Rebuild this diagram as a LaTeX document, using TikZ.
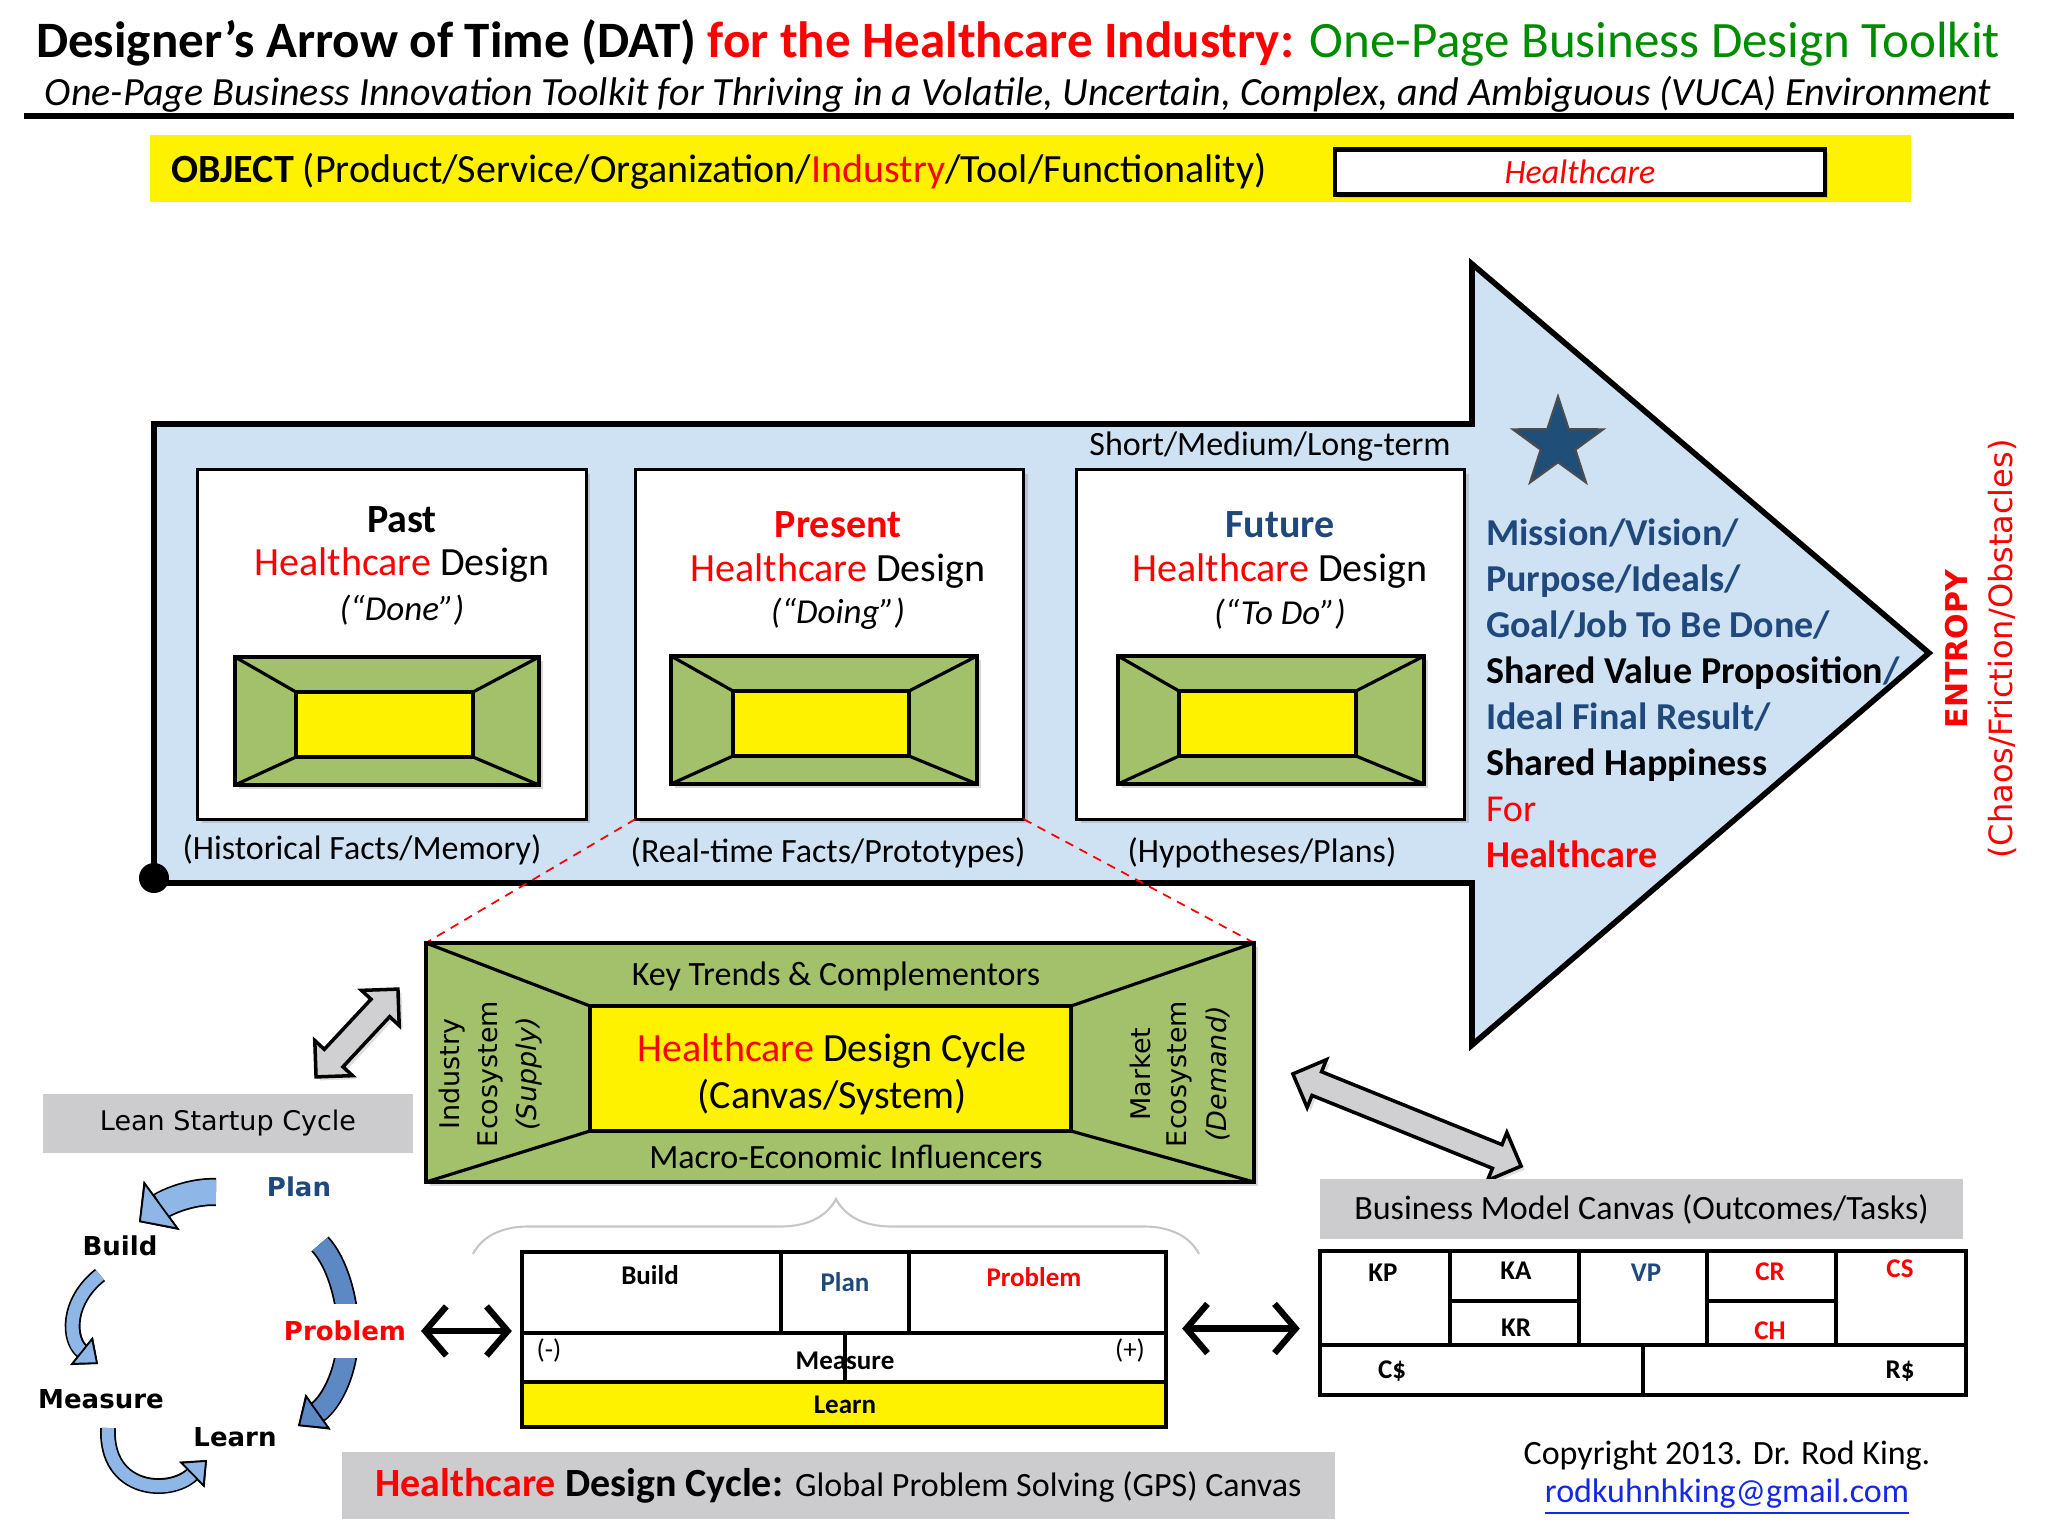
\documentclass[tikz,border=0pt]{standalone}
\usepackage{fontspec}
\setmainfont{Carlito}
\newfontfamily\verd{DejaVu Sans}
\usetikzlibrary{arrows.meta, positioning, calc, shapes.geometric, shapes.arrows, decorations.pathreplacing, shadows}
\definecolor{arrowblue}{RGB}{207,226,243}
\definecolor{olive}{RGB}{163,192,106}
\definecolor{navy}{RGB}{31,73,125}
\definecolor{hred}{RGB}{255,0,0}
\definecolor{dgreen}{RGB}{0,140,0}
\definecolor{bargray}{RGB}{204,204,206}
\definecolor{linkgray}{RGB}{208,208,211}
\definecolor{cyclight}{RGB}{142,182,230}
\definecolor{cycdark}{RGB}{92,136,196}
\definecolor{starblue}{RGB}{31,78,121}
\definecolor{linkblue}{RGB}{20,40,230}

% font size given in pixels of the 2048 wide sheet
\newcommand{\pxfont}[2]{\fontsize{\dimexpr0.2845pt*#1\relax}{\dimexpr0.2845pt*#2\relax}\selectfont}

% green frame with a yellow core
\newcommand{\designframe}[8]{%
  \draw[edge, fill=olive, drop shadow={shadow xshift=1.2pt, shadow yshift=-1.2pt, opacity=0.3}] (#1,#2) rectangle (#3,#4);
  \draw[edge] (#1,#2) -- (#5,#6) (#3,#2) -- (#7,#6) (#1,#4) -- (#5,#8) (#3,#4) -- (#7,#8);
  \draw[edge, fill=yellow] (#5,#6) rectangle (#7,#8);
}

\begin{document}
\begin{tikzpicture}[x=0.01cm, y=-0.01cm,
    every node/.style={inner sep=0pt, outer sep=0pt},
    outline/.style={draw=black, line width=1.6pt},
    edge/.style={draw=black, line width=0.9pt},
    timebox/.style={edge, fill=white, minimum width=3.88cm, minimum height=3.49cm,
      drop shadow={shadow xshift=1.2pt, shadow yshift=-1.2pt, opacity=0.3}},
    bar/.style={fill=bargray},
    grid/.style={draw=black, line width=1.1pt},
    zoomline/.style={hred, line width=0.5pt, dash pattern=on 2.5pt off 2pt},
    blocklink/.style={double arrow, draw=black, line width=1pt, fill=linkgray,
      inner sep=0.11cm, double arrow head extend=0.13cm,
      drop shadow={shadow xshift=1pt, shadow yshift=-1pt, opacity=0.25}},
    pairlink/.style={line width=1.8pt, {Straight Barb[length=6pt,width=14pt]}-{Straight Barb[length=6pt,width=14pt]}},
    cycarrow/.style n args={4}{line width=#2, draw=#1,
      -{Triangle[length=#3, width=#4, color=black, fill=#1, line width=0.5pt]},
      preaction={draw=black, line width=#2+1pt, -{Triangle[length=#3, width=#4]}}},
    cyclabel/.style={font=\verd\bfseries\pxfont{26}{30}},
    cell/.style={font=\bfseries\pxfont{27}{30}}]
\useasboundingbox (0,0) rectangle (2048,1536);

% heading
\node (title) at (1018,43) {\pxfont{51.5}{58}\bfseries Designer’s Arrow of Time (DAT) \textcolor{hred}{for the Healthcare Industry:} \mdseries\textcolor{dgreen}{One-Page Business Design Toolkit}};
\node (subtitle) at (1018,94) {\pxfont{40}{46}\itshape One-Page Business Innovation Toolkit for Thriving in a Volatile, Uncertain, Complex, and Ambiguous (VUCA) Environment};
\draw[line width=1.6pt] (24,116) -- (2014,116);

% object band
\fill[yellow] (150,135) rectangle (1911,202);
\node[anchor=west] (object) at (171,171) {\pxfont{40}{46}\textbf{OBJECT} (Product/Service/Organization/\textcolor{hred}{Industry}/Tool/Functionality)};
\node[draw, fill=white, line width=1.2pt, minimum width=4.89cm, minimum height=0.45cm,
  drop shadow={shadow xshift=1pt, shadow yshift=-1pt, opacity=0.3}] (objbox) at (1580,172) {\pxfont{34}{38}\itshape\color{hred}Healthcare};

% arrow of time
\draw[outline, fill=arrowblue] (154,424) -- (1472,424) -- (1472,264) -- (1929,653) -- (1472,1045) -- (1472,883) -- (154,883) -- cycle;
\fill (154,878) circle (0.15cm);
\node (horizon) at (1270,447) {\pxfont{34}{38}Short/Medium/Long-term};

% past / present / future
\node[timebox] (past) at (392,644.5) {};
\node[timebox] (present) at (829.5,644.5) {};
\node[timebox] (future) at (1270.5,644.5) {};

\node (pastname) at (402,520) {\pxfont{40}{44}\bfseries Past};
\node (pastdesign) at (402,565) {\pxfont{40}{44}\textcolor{hred}{Healthcare} Design};
\node (pastmode) at (402,610) {\pxfont{35}{40}\itshape(“Done”)};
\node (presentname) at (838,525) {\pxfont{40}{44}\bfseries\color{hred}Present};
\node (presentdesign) at (838,571) {\pxfont{40}{44}\textcolor{hred}{Healthcare} Design};
\node (presentmode) at (838,614) {\pxfont{35}{40}\itshape(“Doing”)};
\node (futurename) at (1280,525) {\pxfont{40}{44}\bfseries\color{navy}Future};
\node (futuredesign) at (1280,571) {\pxfont{40}{44}\textcolor{hred}{Healthcare} Design};
\node (futuremode) at (1280,614) {\pxfont{35}{40}\itshape(“To Do”)};

\designframe{235}{657}{539}{785}{296}{692}{473}{757}
\designframe{671}{656}{977}{784}{733}{691}{909}{756}
\designframe{1118}{656}{1424}{784}{1179}{691}{1356}{756}

\node (pastfacts) at (362,850) {\pxfont{34.5}{38}(Historical Facts/Memory)};
\node (presentfacts) at (828,853) {\pxfont{34.5}{38}(Real-time Facts/Prototypes)};
\node (futurefacts) at (1262,853) {\pxfont{34.5}{38}(Hypotheses/Plans)};

% head of the arrow
\node[star, star points=5, star point ratio=2.6, fill=starblue, draw=black!70, line width=0.6pt, minimum size=0.95cm] (goal) at (1558,444) {};
\node[anchor=west, align=left, text=navy, font=\bfseries\pxfont{38.5}{46}] (purpose) at (1486,693)
  {Mission/Vision/\\Purpose/Ideals/\\Goal/Job To Be Done/\\\textcolor{black}{Shared Value Proposition}/\\Ideal Final Result/\\\textcolor{black}{Shared Happiness}\\\textcolor{hred}{\mdseries For}\\\textcolor{hred}{Healthcare}};
\node[rotate=90, text=hred, font=\verd\bfseries\pxfont{30}{36}] (entropy) at (1957,649) {ENTROPY};
\node[rotate=90, text=hred, font=\verd\pxfont{32.5}{38}] (chaos) at (2002,649) {(Chaos/Friction/Obstacles)};

% design cycle canvas
\node[minimum width=8.28cm, minimum height=2.39cm] (dcycle) at (840,1062.5) {};
\draw[zoomline] (present.south west) -- (dcycle.north west);
\draw[zoomline] (present.south east) -- (dcycle.north east);
\designframe{426}{943}{1254}{1182}{590}{1006}{1071}{1131}
\node (trends) at (836,976) {\pxfont{34.5}{40}Key Trends \& Complementors};
\node (macro) at (846,1157) {\pxfont{34.5}{40}Macro-Economic Influencers};
\node (dctitle) at (832,1051) {\pxfont{40}{44}\textcolor{hred}{Healthcare} Design Cycle};
\node (dcsub) at (832,1097) {\pxfont{40}{44}(Canvas/System)};
\node[rotate=90, font=\verd\pxfont{27}{30}] (supplya) at (452,1074) {Industry};
\node[rotate=90, font=\verd\pxfont{27}{30}] (supplyb) at (490,1074) {Ecosystem};
\node[rotate=90, font=\verd\itshape\pxfont{27}{30}] (supplyc) at (529,1074) {(Supply)};
\node[rotate=90, font=\verd\pxfont{27}{30}] (demanda) at (1140,1074) {Market};
\node[rotate=90, font=\verd\pxfont{27}{30}] (demandb) at (1179,1074) {Ecosystem};
\node[rotate=90, font=\verd\itshape\pxfont{27}{30}] (demandc) at (1218,1074) {(Demand)};

% links to the other toolkits
\node[blocklink, minimum height=1.2cm, rotate=47] (leanlink) at (357,1033) {};
\node[blocklink, minimum height=2.46cm, rotate=-22] (canvaslink) at (1407,1120) {};

% lean startup cycle
\node[bar, minimum width=3.70cm, minimum height=0.59cm, font=\verd\pxfont{27}{30}] (lean) at (228,1123.5) {Lean Startup Cycle};
\draw[cycarrow={cyclight}{7pt}{8pt}{17pt}] (216,1192) .. controls (190,1191) and (165,1203) .. (139,1222);
\draw[cycarrow={cyclight}{3.5pt}{6pt}{10pt}] (100,1275) .. controls (66,1302) and (68,1340) .. (98,1364);
\draw[cycarrow={cyclight}{3.5pt}{6pt}{10pt}] (108,1428) .. controls (105,1492) and (170,1496) .. (207,1460);
\draw[cycarrow={cycdark}{5.5pt}{7pt}{12pt}] (320,1244) .. controls (337,1262) and (348,1300) .. (348,1332) .. controls (348,1370) and (332,1402) .. (298,1426);
\node[cyclabel, text=navy] (plan) at (299,1187) {Plan};
\node[cyclabel] (build) at (120,1246) {Build};
\node[cyclabel, text=hred, fill=white, inner xsep=0.04cm, inner ysep=0.17cm] (problem) at (345,1331) {Problem};
\node[cyclabel] (measure) at (101,1399) {Measure};
\node[cyclabel] (learn) at (235,1437) {Learn};

% global problem solving canvas
\draw[gray!45, line width=0.6pt, decorate, decoration={brace, amplitude=0.55cm}] (473,1254) -- (1199,1254);
\node[grid, fill=white, minimum width=6.44cm, minimum height=1.75cm] (gps) at (844,1339.5) {};
\fill[yellow] (522,1382) rectangle (1166,1427);
\draw[grid] (522,1333) -- (1166,1333) (522,1382) -- (1166,1382) (781,1252) -- (781,1333) (909,1252) -- (909,1333);
\draw[grid] (gps.north west) rectangle (gps.south east);
\node[cell] (gpsbuild) at (650,1275) {Build};
\node[cell, text=navy] (gpsplan) at (845,1282) {Plan};
\node[cell, text=hred] (gpsproblem) at (1034,1277) {Problem};
\node[font=\pxfont{27}{30}] (gpsminus) at (549,1350) {(-)};
\node[cell] (gpsmeasure) at (845,1361) {Measure};
\node[font=\pxfont{27}{30}] (gpsplus) at (1130,1350) {(+)};
\node[cell] (gpslearn) at (845,1405) {Learn};
\draw[grid] (845,1333) -- (845,1382);

% business model canvas
\node[bar, minimum width=6.43cm, minimum height=0.6cm] (bmctitle) at (1641.5,1209) {\pxfont{34}{40}Business Model Canvas (Outcomes/Tasks)};
\node[grid, minimum width=6.46cm, minimum height=1.44cm] (bmc) at (1643,1323) {};
\draw[grid] (1320,1345) -- (1966,1345)
  (1450,1251) -- (1450,1345) (1579,1251) -- (1579,1345) (1707,1251) -- (1707,1345) (1836,1251) -- (1836,1345)
  (1450,1301) -- (1579,1301) (1707,1301) -- (1836,1301) (1643,1345) -- (1643,1395);
\node[cell] (kp) at (1383,1273) {KP};
\node[cell] (ka) at (1516,1271) {KA};
\node[cell] (kr) at (1516,1328) {KR};
\node[cell, text=navy] (vp) at (1646,1273) {VP};
\node[cell, text=hred] (cr) at (1770,1272) {CR};
\node[cell, text=hred] (ch) at (1770,1331) {CH};
\node[cell, text=hred] (cs) at (1900,1269) {CS};
\node[cell] (cost) at (1392,1371) {C\$};
\node[cell] (revenue) at (1900,1371) {R\$};

% two-way links
\draw[pairlink, shorten <=0.11cm, shorten >=0.1cm] (problem.east) -- (problem.east -| gps.west);
\draw[pairlink, shorten <=0.16cm, shorten >=0.2cm] ([yshift=0.11cm]gps.east) -- ([yshift=0.11cm]gps.east -| bmc.west);

% footer
\node[bar, minimum width=9.93cm, minimum height=0.67cm] (gpsbar) at (838.5,1485.5)
  {\pxfont{40}{44}\bfseries\textcolor{hred}{Healthcare} Design Cycle: \mdseries\pxfont{34}{38}Global Problem Solving (GPS) Canvas};
\node (copyright) at (1727,1456) {\pxfont{34}{38}Copyright 2013. Dr. Rod King.};
\node (email) at (1727,1497) {\pxfont{34}{38}\color{linkblue}\underline{rodkuhnhking@gmail.com}};
\end{tikzpicture}
\end{document}
